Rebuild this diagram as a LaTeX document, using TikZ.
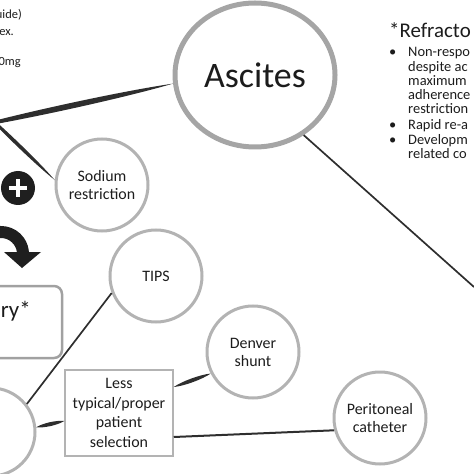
\documentclass[tikz,border=0pt]{standalone}
\usepackage{fontspec}
\setmainfont{Carlito}
\usetikzlibrary{calc,shapes.geometric}
\definecolor{ringgray}{HTML}{B3B3B3}
\definecolor{linkgray}{HTML}{2E2E2E}
\definecolor{inkgray}{HTML}{1C1C1C}
\def\taper[#1](#2)(#3)(#4){\fill[#1] (#2) .. controls ($(#2)!0.25!(#3)!#4!90:(#3)$) and ($(#2)!0.75!(#3)!#4!90:(#3)$) .. (#3) .. controls ($(#2)!0.75!(#3)!#4!-90:(#3)$) and ($(#2)!0.25!(#3)!#4!-90:(#3)$) .. (#2);}

\begin{document}
\begin{tikzpicture}[x=1bp, y=-1bp,
  ring/.style={circle, draw=ringgray, line width=3bp, minimum size=92bp, inner sep=0pt,
    align=center, text=inkgray, font=\fontsize{16}{18}\selectfont},
  link/.style={draw=linkgray, line width=1.7bp},
  brush/.style={fill=linkgray},
  frag/.style={anchor=base east, inner sep=0pt, text=inkgray}]
			%%%%% FRAME %%%%%
			\clip (0,0) rectangle (474,474);
			\useasboundingbox (0,0) rectangle (474,474);
			
			%%%%% TEXT FRAGMENTS %%%%%
			\node[frag, font=\fontsize{12.5}{15}\selectfont] (frag1) at (22,19) {uide)};
			\node[frag, font=\fontsize{12.5}{15}\selectfont] (frag2) at (14,36) {ex.};
			\node[frag, font=\fontsize{12.5}{15}\selectfont] (frag3) at (21,66) {0mg};
			
			%%%%% CIRCLES %%%%%
			\node[ring, ellipse, minimum width=160bp, minimum height=144bp, line width=5bp,
			  draw=ringgray!92!black, font=\fontsize{36}{40}\selectfont] (asc) at (255,75) {Ascites};
			\node[ring] (sod) at (102,185) {Sodium\\restriction};
			\node[ring] (tips) at (156,276) {TIPS};
			\node[ring] (den) at (253,352) {Denver\\shunt};
			\node[ring] (peri) at (380,418) {Peritoneal\\catheter};
			\node[ring, minimum size=88bp] (blc) at (-9,432) {};
			
			\node[draw=ringgray, line width=1.5bp, minimum width=108bp, minimum height=86bp,
			  align=center, text=inkgray, font=\fontsize{16}{19.7}\selectfont] (less) at (119,413)
			  {Less\\typical/proper\\patient\\selection};
			
			%%%%% REFRACTORY BOX %%%%%
			\draw[draw=ringgray!90!black, line width=2.5bp, rounded corners=8bp] (-20,286) rectangle (62,358);
			\node[frag, font=\fontsize{23}{26}\selectfont] (refr) at (31,317) {ory*};
			
			%%%%% PLUS AND ARROW %%%%%
			\node[circle, fill=black!88, minimum size=34bp, inner sep=0pt] (plus) at (18,188) {};
			\draw[white, line width=3.5bp] ([xshift=-9bp]plus.center) -- ([xshift=9bp]plus.center);
			\draw[white, line width=3.5bp] ([yshift=-9bp]plus.center) -- ([yshift=9bp]plus.center);
			
			\draw[black!88, line width=12bp] (1,254) ++(-125:22) arc (-125:0:22);
			\fill[black!88] (4,252) -- (41,252) -- (22,268) -- cycle;
			
			%%%%% CONNECTORS %%%%%
			\coordinate (lft1) at (-40,130);
			\coordinate (lft2) at (-20,108);
			\coordinate (rgt) at (474,287);
			\taper[brush](asc.186)(lft1)(3.8bp)
			\taper[brush](lft2)(sod.174)(2.4bp)
			\draw[link] (asc.-51) -- (rgt);
			
			\draw[link] (blc.38) -- (tips.201);
			\coordinate (lessL) at ([yshift=-8bp]less.west);
			\taper[brush](blc.6)(lessL)(2.6bp)
			\coordinate (lessR1) at ([yshift=26bp]less.east);
			\taper[brush](lessR1)(den.207)(2.6bp)
			\coordinate (lessR2) at ([yshift=-24bp]less.east);
			\draw[link, line width=2bp] (lessR2) -- (peri.195);
			
			%%%%% REFRACTORY NOTE %%%%%
			\node[anchor=base west, inner sep=0pt, text=inkgray, font=\fontsize{21}{24}\selectfont] (reftitle) at (389,38) {*Refracto};
			\node[anchor=north west, inner sep=0pt, text=inkgray, font=\fontsize{14.5}{14}\selectfont] (reflist) at (389,47) {%
			  \begin{tabular}{@{}p{19bp}@{}l@{}}
			  \textbullet & Non-respo\\
			  & despite ac\\
			  & maximum\\
			  & adherence\\
			  & restriction\\[1.5bp]
			  \textbullet & Rapid re-a\\[1bp]
			  \textbullet & Developm\\
			  & related co
			  \end{tabular}};
\end{tikzpicture}
\end{document}
